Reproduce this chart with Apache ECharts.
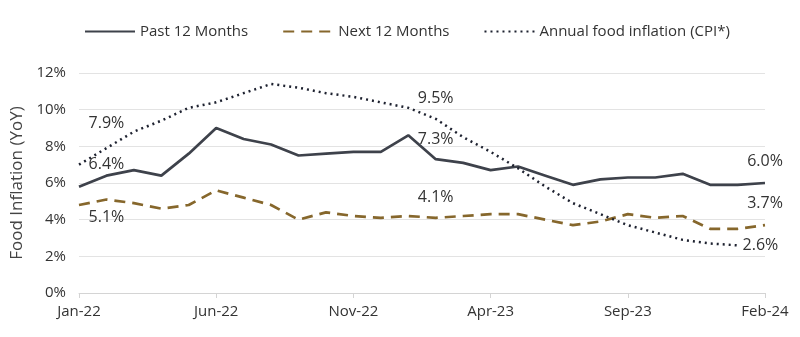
<!DOCTYPE html>
<html>
<head>
<meta charset="utf-8">
<script src="https://cdn.jsdelivr.net/npm/echarts@6/dist/echarts.min.js"></script>
<style>
  html, body { margin: 0; padding: 0; background: #fff; }
  #chart { width: 800px; height: 337px; }
</style>
</head>
<body>
<div id="chart"></div>
<script>
// 月份
var months = ['Jan-22','Feb-22','Mar-22','Apr-22','May-22','Jun-22','Jul-22','Aug-22','Sep-22','Oct-22','Nov-22','Dec-22',
	'Jan-23','Feb-23','Mar-23','Apr-23','May-23','Jun-23','Jul-23','Aug-23','Sep-23','Oct-23','Nov-23','Dec-23',
	'Jan-24','Feb-24'];
var past12 = [5.8, 6.4, 6.7, 6.4, 7.6, 9.0, 8.4, 8.1, 7.5, 7.6, 7.7, 7.7,
	8.6, 7.3, 7.1, 6.7, 6.9, 6.4, 5.9, 6.2, 6.3, 6.3, 6.5, 5.9, 5.9, 6.0];
var next12 = [4.8, 5.1, 4.9, 4.6, 4.8, 5.6, 5.2, 4.8, 4.0, 4.4, 4.2, 4.1,
	4.2, 4.1, 4.2, 4.3, 4.3, 4.0, 3.7, 3.9, 4.3, 4.1, 4.2, 3.5, 3.5, 3.7];
var cpiFood = [7.0, 7.9, 8.8, 9.4, 10.1, 10.4, 10.9, 11.4, 11.2, 10.9, 10.7, 10.4,
	10.1, 9.5, 8.5, 7.7, 6.8, 5.8, 4.9, 4.3, 3.7, 3.3, 2.9, 2.7, 2.6, null];
var yTicks = ['0%','2%','4%','6%','8%','10%','12%'];

var FONT = 'Open Sans';
var labelStyle = { show: true, color: '#333', fontSize: 16, fontFamily: FONT,
	formatter: function (p) { return p.value.toFixed(1) + '%'; } };

// 只给部分点加标签
function withLabels(arr, marks) {
	return arr.map(function (v, i) {
		if (marks[i]) {
			return { value: v, label: Object.assign({}, labelStyle, marks[i]) };
		}
		return v;
	});
}

var chart = echarts.init(document.getElementById('chart'));
var option = {
	animation: false,
	legend: {
		top: 19,
		left: 79,
		itemWidth: 50,
		itemHeight: 14,
		itemGap: 34,
		itemStyle: { opacity: 0 },
		textStyle: { fontFamily: FONT, fontSize: 15, color: '#333' },
		data: ['Past 12 Months', 'Next 12 Months', 'Annual food inflation (CPI*)']
	},
	grid: { left: 79, right: 35, top: 73, bottom: 44 },
	xAxis: {
		type: 'category',
		data: months,
		boundaryGap: false,
		axisLine: { lineStyle: { color: '#d4d4d4' } },
		axisTick: { interval: 4, length: 5, lineStyle: { color: '#d4d4d4' } },
		axisLabel: { interval: 4, color: '#333', fontFamily: FONT, fontSize: 15, margin: 11 }
	},
	yAxis: {
		type: 'value',
		min: 0,
		max: 12,
		interval: 2,
		name: 'Food Inflation (YoY)',
		nameLocation: 'middle',
		nameGap: 52,
		nameTextStyle: { fontFamily: FONT, fontSize: 17, color: '#444' },
		axisLabel: { color: '#333', fontFamily: FONT, fontSize: 15, margin: 13,
			formatter: function (v) { return yTicks[v / 2]; } },
		splitLine: { lineStyle: { color: '#e3e3e3' } }
	},
	series: [
		{
			name: 'Past 12 Months',
			type: 'line',
			symbol: 'circle',
			symbolSize: 0,
			color: '#3e424b',
			lineStyle: { width: 2.7, color: '#3e424b' },
			data: withLabels(past12, {
				1: { position: 'top', distance: 3 },
				13: { position: 'top', distance: 12 },
				25: { position: 'top', distance: 14 }
			})
		},
		{
			name: 'Next 12 Months',
			type: 'line',
			symbol: 'circle',
			symbolSize: 0,
			color: '#86672c',
			lineStyle: { width: 2.7, color: '#86672c', type: [11, 7] },
			data: withLabels(next12, {
				1: { position: 'bottom', distance: 10 },
				13: { position: 'top', distance: 12 },
				25: { position: 'top', distance: 14 }
			})
		},
		{
			name: 'Annual food inflation (CPI*)',
			type: 'line',
			symbol: 'circle',
			symbolSize: 0,
			color: '#1e2230',
			lineStyle: { width: 2.5, color: '#1e2230', type: [2, 4] },
			data: withLabels(cpiFood, {
				1: { position: 'top', distance: 17 },
				13: { position: 'top', distance: 12 },
				24: { position: 'right', distance: 5 }
			})
		}
	]
};
chart.setOption(option);
</script>
</body>
</html>
